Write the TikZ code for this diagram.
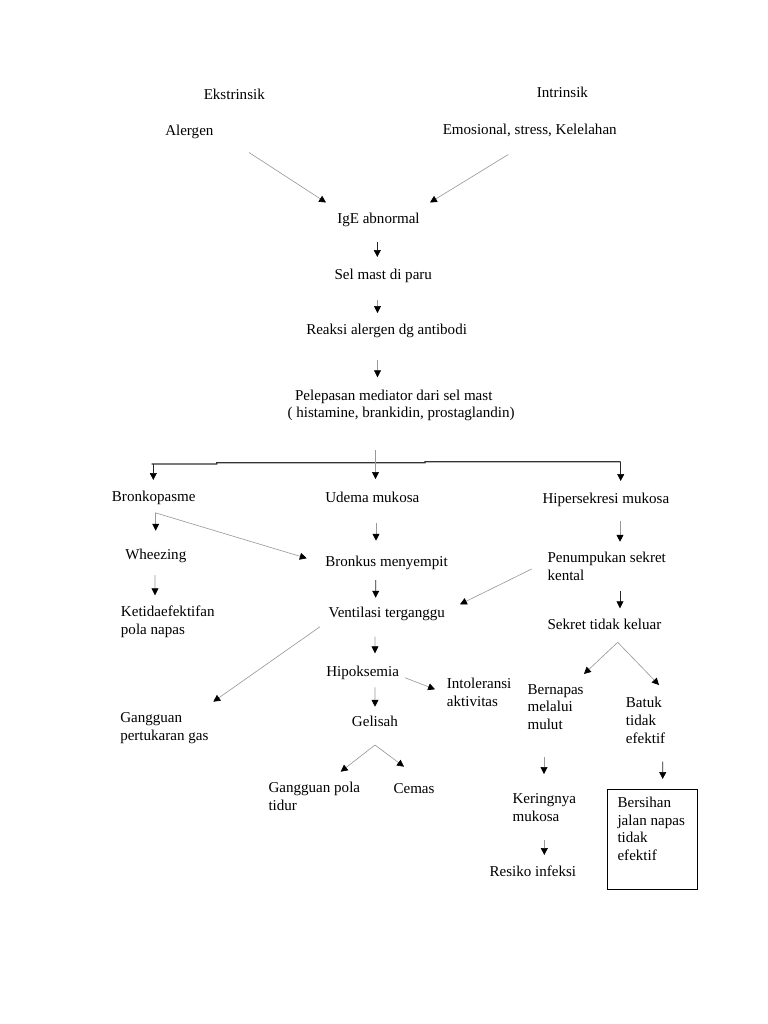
\documentclass[tikz,border=0pt]{standalone}
\usepackage{fontspec}
\setmainfont{Liberation Serif}
\usetikzlibrary{arrows.meta, calc, positioning}
\tikzset{
  lbl/.style={anchor=base west, inner sep=0pt,
    font=\fontsize{12}{14.2}\selectfont},
  arr/.style={draw=black!40, line width=0.5pt,
    -{Triangle[length=5.5pt, width=5.5pt, color=black]}},
  dark/.style={draw=black!85},
  bar/.style={draw=black!80, line width=1pt},
}
% lines stacked under a first-line baseline
\newcommand\stack[1]{\begin{tabular}[t]{@{}l@{}}#1\end{tabular}}

\begin{document}
\begin{tikzpicture}[x=0.797pt, y=-0.797pt]
  \useasboundingbox[fill=white] (0,0) rectangle (768,1024);

  % causes
  \node[lbl] (ekstr) at (203.5,99) {Ekstrinsik};
  \node[lbl] (intr) at (536.7,97.5) {Intrinsik};
  \node[lbl] (alergen) at (165,135) {Alergen};
  \node[lbl] (emosi) at (442.5,134.5) {Emosional, stress, Kelelahan};

  % main chain
  \node[lbl] (ige) at (337,223) {IgE abnormal};
  \node[lbl] (selmast) at (334.3,279) {Sel mast di paru};
  \node[lbl] (reaksi) at (306,334.5) {Reaksi alergen dg antibodi};
  \node[lbl] (pelepasan) at (287.3,400) {\stack{\hspace*{6pt}Pelepasan mediator dari sel mast\\( histamine, brankidin, prostaglandin)}};

  % three branches
  \node[lbl] (bronko) at (111.7,501) {Bronkopasme};
  \node[lbl] (udema) at (325,502) {Udema mukosa};
  \node[lbl] (hiper) at (542.3,503.3) {Hipersekresi mukosa};

  \node[lbl] (wheez) at (125,559) {Wheezing};
  \node[lbl] (bronkus) at (325,566.7) {Bronkus menyempit};
  \node[lbl] (penumpukan) at (547.3,562.3) {\stack{Penumpukan sekret\\kental}};
  \node[lbl] (ketidak) at (120.7,616.7) {\stack{Ketidaefektifan\\pola napas}};
  \node[lbl] (ventilasi) at (328.3,617.3) {Ventilasi terganggu};
  \node[lbl] (sekret) at (547.3,629) {Sekret tidak keluar};

  \node[lbl] (hipoks) at (326,676.7) {Hipoksemia};
  \node[lbl] (intol) at (446.7,688.3) {\stack{Intoleransi\\aktivitas}};
  \node[lbl] (bernapas) at (527.3,694) {\stack{Bernapas\\melalui\\mulut}};
  \node[lbl] (batuk) at (625.7,707.7) {\stack{Batuk\\tidak\\efektif}};
  \node[lbl] (gangguan) at (120,722.3) {\stack{Gangguan\\pertukaran gas}};
  \node[lbl] (gelisah) at (351.7,726.7) {Gelisah};
  \node[lbl] (tidur) at (268.3,792.3) {\stack{Gangguan pola\\tidur}};
  \node[lbl] (cemas) at (393.3,793.3) {Cemas};
  \node[lbl] (kering) at (512.3,803.3) {\stack{Keringnya\\mukosa}};
  \node[lbl] (bersihan) at (617.3,807.3) {\stack{Bersihan\\jalan napas\\tidak\\efektif}};
  \node[lbl] (resiko) at (489.3,876) {Resiko infeksi};

  \draw[line width=0.8pt] ($(bersihan.base west)+(-9.6,-18)$) rectangle ($(bersihan.base west)+(80,82)$);

  % connectors
  \draw[arr] ($(alergen.base west)+(84,17.5)$) -- ($(ige.base west)+(-11,-20.5)$);
  \draw[arr] ($(emosi.base west)+(65.8,20)$) -- ($(ige.base west)+(93,-20.5)$);
  \draw[arr, dark] ($(ige.base west)+(40.3,19)$) -- ($(selmast.base west)+(43,-22)$);
  \draw[arr] ($(selmast.base west)+(43.2,21)$) -- ($(reaksi.base west)+(71.5,-21.5)$);
  \draw[arr] ($(reaksi.base west)+(71.5,25.5)$) -- ($(pelepasan.base west)+(90.2,-22.7)$);

  \draw[bar] ($(bronko.base west)+(40,-37)$) -- ++(65,0) -- ++(0,-1.3) -- ++(208.3,0)
    -- ++(0,-1) -- ($(hiper.base west)+(78.4,-41.6)$);
  \draw[arr] ($(pelepasan.base west)+(88.2,50)$) -- ($(udema.base west)+(50.5,-23)$);
  \draw[arr, dark] ($(bronko.base west)+(41.6,-37)$) -- ($(bronko.base west)+(41.6,-21)$);
  \draw[arr, dark] ($(hiper.base west)+(78.4,-41.6)$) -- ($(hiper.base west)+(78.4,-22.3)$);

  \draw[arr] ($(bronko.base west)+(44,11.7)$) -- ($(wheez.base west)+(30.7,-28.3)$);
  \draw[arr] ($(bronko.base west)+(43.3,11.7)$) -- ($(bronkus.base west)+(-18.3,-8.4)$);
  \draw[arr] ($(udema.base west)+(51,20.7)$) -- ($(bronkus.base west)+(51,-26)$);
  \draw[arr] ($(wheez.base west)+(30,16)$) -- ($(ketidak.base west)+(34.3,-21.4)$);
  \draw[arr, dark] ($(bronkus.base west)+(50.7,13.3)$) -- ($(ventilasi.base west)+(47.4,-19.6)$);
  \draw[arr] ($(hiper.base west)+(77.7,17.7)$) -- ($(penumpukan.base west)+(72.7,-20.6)$);
  \draw[arr] ($(penumpukan.base west)+(-15.6,6.7)$) -- ($(ventilasi.base west)+(131.7,-13)$);
  \draw[arr, dark] ($(penumpukan.base west)+(72.7,28.4)$) -- ($(sekret.base west)+(72.7,-20.7)$);

  \draw[arr] ($(ventilasi.base west)+(-8.3,9.4)$) -- ($(gangguan.base west)+(93.3,-20.6)$);
  \draw[arr] ($(ventilasi.base west)+(46.7,19.4)$) -- ($(hipoks.base west)+(49,-23.4)$);
  \draw[arr] ($(hipoks.base west)+(79,1)$) -- ($(intol.base west)+(-11.7,1)$);
  \draw[arr] ($(hipoks.base west)+(49,10.6)$) -- ($(gelisah.base west)+(23.3,-20)$);
  \draw[arr] ($(gelisah.base west)+(23.3,18.3)$) -- ($(tidur.base west)+(72.4,-20.6)$);
  \draw[arr] ($(gelisah.base west)+(23.3,18.3)$) -- ($(cemas.base west)+(10.7,-26.6)$);

  \draw[arr] ($(sekret.base west)+(70.4,13.3)$) -- ($(bernapas.base west)+(56.7,-20)$);
  \draw[arr] ($(sekret.base west)+(70.4,13.3)$) -- ($(batuk.base west)+(33.3,-22.7)$);
  \draw[arr] ($(bernapas.base west)+(16.7,63.3)$) -- ($(kering.base west)+(31.7,-29.3)$);
  \draw[arr, dark] ($(batuk.base west)+(37,54)$) -- ($(bersihan.base west)+(45.4,-28.3)$);
  \draw[arr] ($(kering.base west)+(32,36.7)$) -- ($(resiko.base west)+(55,-21)$);
\end{tikzpicture}
\end{document}
